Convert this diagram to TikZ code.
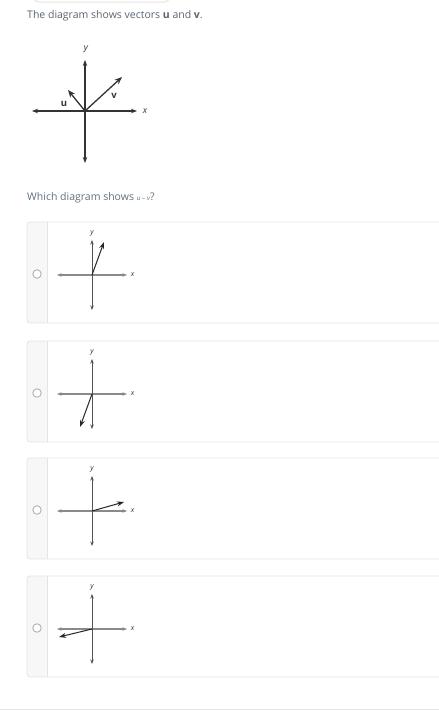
\documentclass[tikz,border=0pt]{standalone}
\usepackage{fontspec}
\setmainfont{Open Sans}
\usetikzlibrary{arrows.meta}
\definecolor{txtgray}{HTML}{5A6470}
\definecolor{qblue}{HTML}{5E7182}
\definecolor{boxline}{HTML}{E4E4E4}
\definecolor{stripfill}{HTML}{F7F7F7}
\definecolor{axisgray}{HTML}{8A8A8A}
\definecolor{darkline}{HTML}{333333}
\tikzset{
  mainaxis/.style={darkline, line width=1.1pt, {Stealth[length=6pt,width=4.5pt]}-{Stealth[length=6pt,width=4.5pt]}},
  mainvec/.style={darkline, line width=1.3pt, -{Stealth[length=7.5pt,width=6pt]}},
  xaxis/.style={axisgray, line width=1.4pt, {Stealth[length=4.5pt,width=3.5pt]}-{Stealth[length=4.5pt,width=3.5pt]}},
  yaxis/.style={darkline!85, line width=0.9pt, {Stealth[length=4.5pt,width=3.5pt]}-{Stealth[length=4.5pt,width=3.5pt]}},
  optvec/.style={black!85, line width=1pt, -{Stealth[length=7pt,width=5pt]}},
  optbox/.style={draw=boxline, line width=0.8pt, rounded corners=3pt},
  radio/.style={circle, draw=black!30, line width=0.9pt, fill=white, minimum size=8.5pt, inner sep=0pt},
  smlabel/.style={font=\fontsize{7.2}{7.2}\selectfont\itshape, text=darkline, inner sep=0pt},
  axlabel/.style={font=\fontsize{9}{9}\selectfont\itshape, text=darkline, inner sep=0pt},
  veclabel/.style={font=\fontsize{9.5}{9.5}\selectfont\bfseries, text=darkline, inner sep=0pt},
}
\begin{document}
\begin{tikzpicture}[x=1pt,y=-1pt]
\useasboundingbox (0,0) rectangle (439,723);
\clip (0,0) rectangle (439,723);
% faint top shadow
\draw[boxline, line width=1pt, rounded corners=6pt] (33,-10) -- (33,2) -- (170,2) -- (170,-10);
% heading
\node[anchor=base west, inner sep=0pt, text=txtgray, font=\fontsize{10.5}{12}\selectfont] (head) at (27,18.5)
  {The diagram shows vectors \textbf{u} and \textbf{v}.};
% main diagram
\coordinate (O) at (85,111);
\coordinate (xl) at (32,111);
\coordinate (xr) at (137,111);
\coordinate (yt) at (85,60);
\coordinate (yb) at (85,163);
\coordinate (ue) at (68,90);
\coordinate (ve) at (122,77);
\draw[mainaxis] (xl) -- (xr);
\draw[mainaxis] (yb) -- (yt);
\draw[mainvec] (O) -- (ue);
\draw[mainvec] (O) -- (ve);
\node[axlabel] (ylab) at (86,49) {y};
\node[axlabel] (xlab) at (145,111) {x};
\node[veclabel] (ulab) at (64,104) {u};
\node[veclabel] (vlab) at (114,96) {v};
% question
\node[anchor=base west, inner sep=0pt, text=qblue, font=\fontsize{10.5}{12}\selectfont] (quest) at (27,200)
  {Which diagram shows {\fontsize{6.5}{6.5}\selectfont\itshape u \textendash{} v}?};
% options
\foreach \i/\top/\dx/\dy in {1/222/12/-33, 2/341/-12/33, 3/458/32/-9, 4/576/-33/8}{
  \pgfmathsetmacro{\oy}{\top+53}
  \fill[stripfill, rounded corners=3pt] (27,\top) rectangle (47,\top+101);
  \draw[optbox] (27,\top) rectangle (450,\top+101);
  \draw[boxline, line width=0.8pt] (47,\top) -- (47,\top+101);
  \node[radio] (r\i) at (37,\oy-1) {};
  \coordinate (o\i) at (92,\oy);
  \coordinate (xa\i) at (57,\oy);
  \coordinate (xb\i) at (127,\oy);
  \coordinate (ya\i) at (92,\oy-35);
  \coordinate (yb\i) at (92,\oy+35);
  \coordinate (v\i) at (92+\dx,\oy+\dy);
  \draw[xaxis] (xa\i) -- (xb\i);
  \draw[yaxis] (yb\i) -- (ya\i);
  \draw[optvec] (o\i) -- (v\i);
  \node[smlabel] (ly\i) at (92,\oy-42) {y};
  \node[smlabel] (lx\i) at (132.5,\oy) {x};
}
% bottom rule
\draw[boxline, line width=0.8pt] (0,709) -- (439,709);
\end{tikzpicture}
\end{document}
